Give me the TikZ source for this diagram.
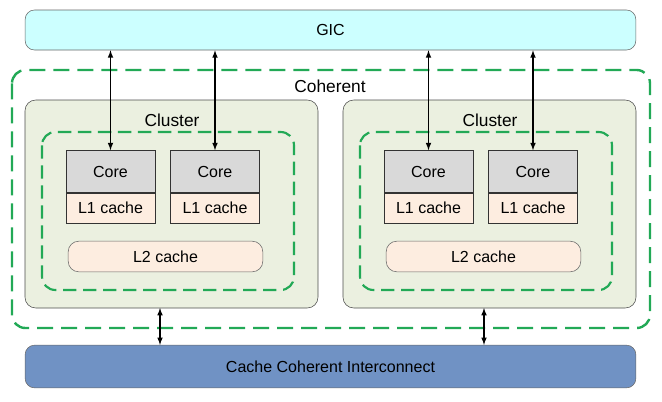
\documentclass[tikz,border=0pt]{standalone}
\usepackage{fontspec}
\setmainfont{Liberation Sans}
\definecolor{gicc}{HTML}{CCFFFF}
\definecolor{clc}{HTML}{EBF0E0}
\definecolor{grn}{HTML}{22A956}
\definecolor{icc}{HTML}{7092C4}
\definecolor{l1c}{HTML}{FDEDE0}
\begin{document}
\begin{tikzpicture}[x=0.75pt,y=-0.75pt,
  bus/.style={draw=black!60,rounded corners=7pt,font=\fontsize{12}{14}\selectfont},
  cluster/.style={draw=black!70,fill=clc,rounded corners=8pt},
  coh/.style={draw=grn,line width=1.8pt,dash pattern=on 12pt off 6pt,rounded corners=10pt},
  core/.style={draw=black!80,fill=black!15,minimum width=66.75pt,minimum height=31.5pt,inner sep=0,font=\fontsize{12}{14}\selectfont},
  l1/.style={draw=black!80,fill=l1c,minimum width=66.75pt,minimum height=22.5pt,inner sep=0,font=\fontsize{12}{14}\selectfont},
  l2/.style={draw=black!60,fill=l1c,rounded corners=8pt,minimum width=146pt,minimum height=23pt,inner sep=0,font=\fontsize{12}{14}\selectfont},
  lbl/.style={font=\fontsize{13}{15}\selectfont},
  arr/.style={line width=0.9pt,<->,>=latex}]
\useasboundingbox (0,0) rectangle (662,401);
\node[bus,fill=gicc,minimum width=458pt,minimum height=30pt] (gic) at (330.5,30) {GIC};
\draw[coh] (12,70) rectangle (650,328);
\node[lbl] (cohl) at (330,86) {Coherent};
\foreach \n/\dx/\bx in {a/0/160,b/318/166}{
  \begin{scope}[xshift=\dx*0.75pt]
  \draw[cluster] (25,100) rectangle (318,308);
  \node[lbl] (cl\n) at (172,120) {Cluster};
  \draw[coh,line width=1.6pt,dash pattern=on 10pt off 5pt] (42,132) rectangle (294,290);
  \node[core] (c1\n) at (110.5,171.5) {Core};
  \node[l1] (l1\n) at (110.5,208) {L1 cache};
  \node[core] (c2\n) at (215,171.5) {Core};
  \node[l1] (l2\n) at (215,208) {L1 cache};
  \node[l2] (lt\n) at (165.5,256.5) {L2 cache};
  \coordinate (cb\n) at (\bx,308);
  \end{scope}}
\node[bus,fill=icc,minimum width=458pt,minimum height=32pt] (ic) at (330.5,366.5) {Cache Coherent Interconnect};
\foreach \c in {c1a,c2a,c1b,c2b}{
  \draw[arr] (gic.south -| \c.north) -- (\c.north);}
\draw[arr] (cba) -- (ic.north -| cba);
\draw[arr] (cbb) -- (ic.north -| cbb);
\end{tikzpicture}
\end{document}
